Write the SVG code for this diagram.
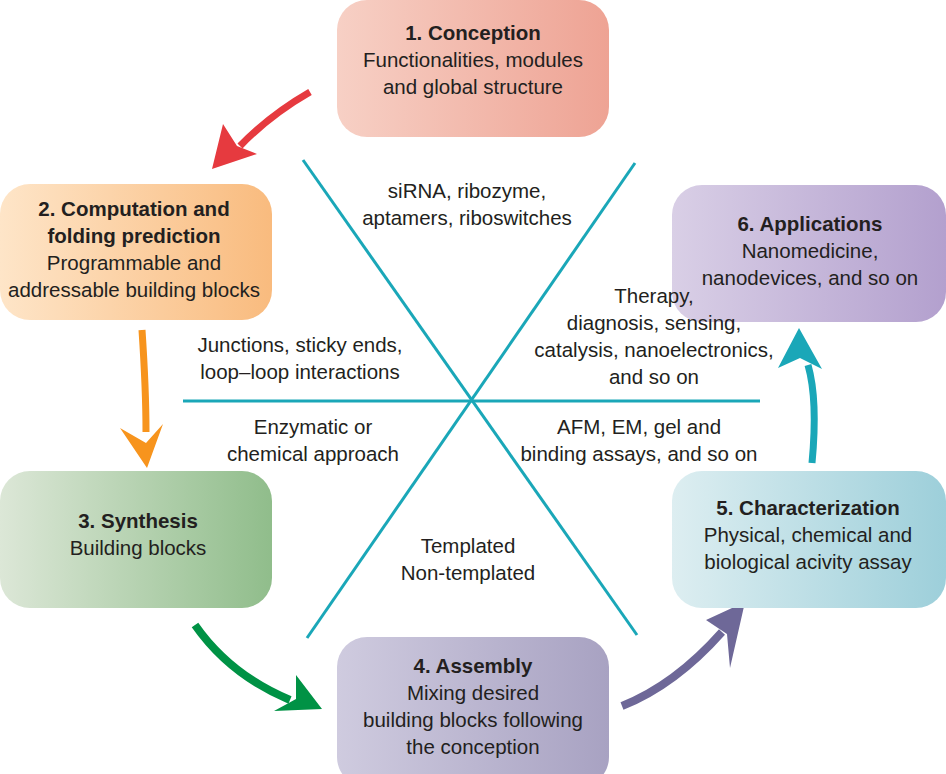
<svg xmlns="http://www.w3.org/2000/svg" width="946" height="774" viewBox="0 0 946 774">
<defs>
<linearGradient id="g1"><stop offset="0" stop-color="#f7d0c5"/><stop offset="1" stop-color="#eea394"/></linearGradient>
<linearGradient id="g2"><stop offset="0" stop-color="#fee5c8"/><stop offset="1" stop-color="#f9bb7e"/></linearGradient>
<linearGradient id="g3"><stop offset="0" stop-color="#dce7d7"/><stop offset="1" stop-color="#90bd8b"/></linearGradient>
<linearGradient id="g4"><stop offset="0" stop-color="#cfcbdf"/><stop offset="1" stop-color="#a8a2c2"/></linearGradient>
<linearGradient id="g5"><stop offset="0" stop-color="#ddeef1"/><stop offset="1" stop-color="#9dcfda"/></linearGradient>
<linearGradient id="g6"><stop offset="0" stop-color="#d9cfe6"/><stop offset="1" stop-color="#b3a0ce"/></linearGradient>
</defs>
<style>
text{font-family:"Liberation Sans Narrow","Liberation Sans",Arial,sans-serif;font-size:20.5px;fill:#231f20;text-anchor:middle}
.b{font-weight:bold}
.ln{stroke:#1aa7b8;stroke-width:3;fill:none}
</style>
<g id="connectors">
<line class="ln" x1="183" y1="401" x2="760" y2="401"/>
<line class="ln" x1="303" y1="160" x2="637" y2="635"/>
<line class="ln" x1="635" y1="163" x2="307" y2="638"/>
<path d="M310,92 Q270,115 240,146" stroke="#e63a3f" stroke-width="7" fill="none"/>
<polygon points="212,169 223,124 237,146 257,154" fill="#e63a3f"/>
<path d="M142,330 Q146,390 146,432" stroke="#f7941d" stroke-width="7" fill="none"/>
<polygon points="147,468 120,428 146,443 163,424" fill="#f7941d"/>
<path d="M195,625 Q230,675 290,700" stroke="#009245" stroke-width="8" fill="none"/>
<polygon points="322,709 296,675 296,699 274,711" fill="#009245"/>
<path d="M622,706 Q675,685 722,632" stroke="#6e6898" stroke-width="8" fill="none"/>
<polygon points="745,602 706,620 727,634 730,668" fill="#6e6898"/>
<path d="M812,463 Q818,400 808,365" stroke="#1aa7b8" stroke-width="7" fill="none"/>
<polygon points="799,328 778,368 800,358 822,369" fill="#1aa7b8"/>
</g>
<g id="n1"><rect x="337" y="0" width="272" height="137" rx="30" fill="url(#g1)"/>
<text x="473" y="40" class="b">1. Conception</text><text x="473" y="67">Functionalities, modules</text><text x="473" y="94">and global structure</text></g>
<g id="n2"><rect x="0" y="184" width="272" height="136" rx="30" fill="url(#g2)"/>
<text x="134" y="216" class="b">2. Computation and</text><text x="134" y="243" class="b">folding prediction</text><text x="134" y="270">Programmable and</text><text x="134" y="297">addressable building blocks</text></g>
<g id="n3"><rect x="0" y="471" width="272" height="137" rx="30" fill="url(#g3)"/>
<text x="138" y="528" class="b">3. Synthesis</text><text x="138" y="555">Building blocks</text></g>
<g id="n4"><rect x="337" y="637" width="272" height="150" rx="30" fill="url(#g4)"/>
<text x="473" y="673" class="b">4. Assembly</text><text x="473" y="700">Mixing desired</text><text x="473" y="727">building blocks following</text><text x="473" y="754">the conception</text></g>
<g id="n5"><rect x="672" y="471" width="274" height="137" rx="30" fill="url(#g5)"/>
<text x="808" y="515" class="b">5. Characterization</text><text x="808" y="542">Physical, chemical and</text><text x="808" y="569">biological acivity assay</text></g>
<g id="n6"><rect x="672" y="185" width="274" height="137" rx="30" fill="url(#g6)"/>
<text x="810" y="231" class="b">6. Applications</text><text x="810" y="258">Nanomedicine,</text><text x="810" y="285">nanodevices, and so on</text></g>
<g id="labels">
<text x="467" y="198">siRNA, ribozyme,</text><text x="467" y="225">aptamers, riboswitches</text>
<text x="300" y="352">Junctions, sticky ends,</text><text x="300" y="379">loop–loop interactions</text>
<text x="313" y="434">Enzymatic or</text><text x="313" y="461">chemical approach</text>
<text x="468" y="553">Templated</text><text x="468" y="580">Non-templated</text>
<text x="654" y="303">Therapy,</text><text x="654" y="330">diagnosis, sensing,</text><text x="654" y="357">catalysis, nanoelectronics,</text><text x="654" y="384">and so on</text>
<text x="639" y="434">AFM, EM, gel and</text><text x="639" y="461">binding assays, and so on</text>
</g>
</svg>
